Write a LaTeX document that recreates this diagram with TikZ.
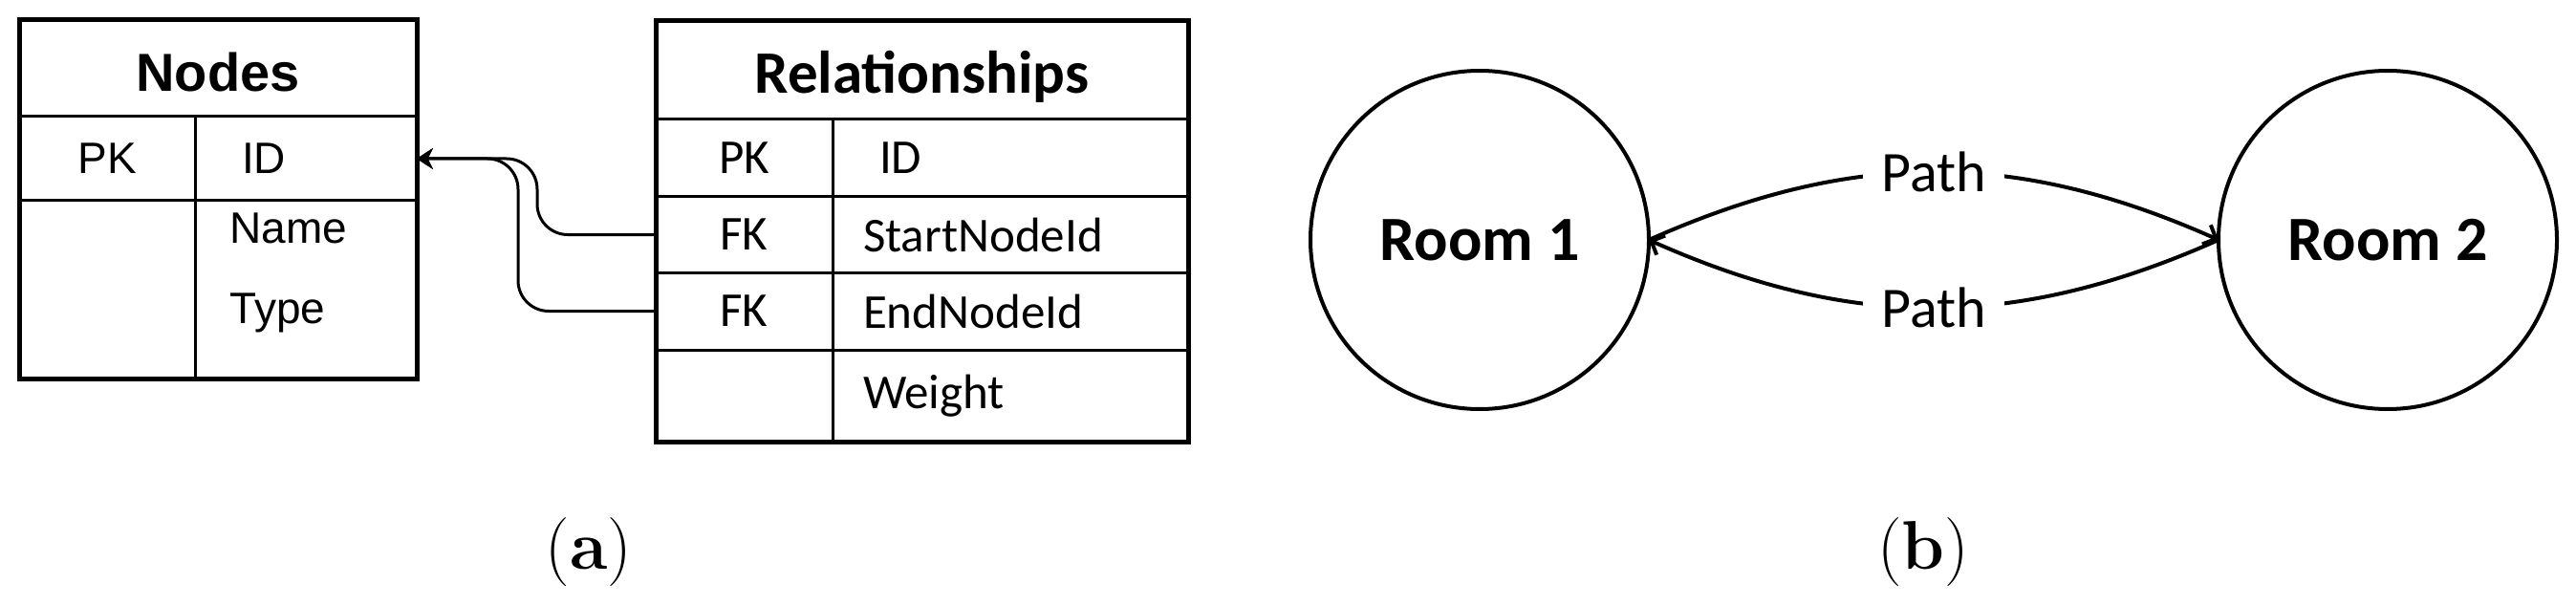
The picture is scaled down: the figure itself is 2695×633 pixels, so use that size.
\documentclass[tikz,border=0pt]{standalone}
\usepackage{fontspec}
\usepackage{tikz}
\usetikzlibrary{arrows.meta,positioning}
\newfontfamily\tablefont{Liberation Sans}
\newfontfamily\canvafont{Carlito}

\begin{document}
\begin{tikzpicture}[x=1pt,y=1pt,
  cell/.style={draw, line width=3pt, outer sep=0pt, inner sep=0pt, anchor=north west},
  ntext/.style={font=\tablefont\fontsize{46}{50}\selectfont},
  rtext/.style={font=\canvafont\fontsize{51}{55}\selectfont},
  head/.style={text height=49pt, text depth=0pt},
  outer/.style={line width=5pt},
  fk/.style={line width=3pt, rounded corners=32pt, -{Stealth[length=17pt,width=22pt]}},
  room/.style={circle, draw, line width=4pt, minimum size=354pt, outer sep=0pt,
    font=\canvafont\bfseries\fontsize{66}{70}\selectfont},
  way/.style={line width=4pt, -{Straight Barb[length=11pt,width=22pt]}},
  lbl/.style={fill=white, inner xsep=19pt, inner ysep=4pt, font=\canvafont\fontsize{60}{64}\selectfont},
  subcap/.style={anchor=base, font=\fontsize{72}{80}\selectfont}]
  \useasboundingbox (0,0) rectangle (2695,633);

  % (a) nodes table
  \node[cell, head, minimum width=416pt, minimum height=101pt,
    font=\tablefont\bfseries\fontsize{56}{60}\selectfont] (nHead) at (20,612) {Nodes};
  \node[cell, ntext, minimum width=184pt, minimum height=88pt] (nPK) at (20,511) {PK};
  \node[cell, ntext, minimum height=88pt, inner xsep=49pt, text width=134pt, align=left] (nID) at (204,511) {ID};
  \node[cell, minimum width=184pt, minimum height=186pt] (nKeys) at (20,423) {};
  \node[cell, minimum width=232pt, minimum height=186pt] (nAttr) at (204,423) {};
  \node[ntext, anchor=base west] (nName) at ([shift={(33,-45)}]nAttr.north west) {Name};
  \node[ntext, anchor=base west] (nType) at ([shift={(33,-128)}]nAttr.north west) {Type};
  \draw[outer] (nHead.north west) rectangle (nAttr.south east);

  % (a) relationships table
  \node[cell, head, minimum width=557pt, minimum height=103pt,
    font=\canvafont\bfseries\fontsize{63}{67}\selectfont] (rHead) at (686,611) {Relationships};
  \node[cell, rtext, minimum width=185pt, minimum height=81pt] (rPK) at (686,508) {PK};
  \node[cell, rtext, minimum height=81pt, inner xsep=49pt, text width=274pt, align=left] (rID) at (871,508) {ID};
  \node[cell, rtext, minimum width=185pt, minimum height=79pt] (rFK1) at (686,427) {FK};
  \node[cell, rtext, minimum height=79pt, inner xsep=32pt, text width=308pt, align=left] (rStart) at (871,427) {StartNodeId};
  \node[cell, rtext, minimum width=185pt, minimum height=81pt] (rFK2) at (686,348) {FK};
  \node[cell, rtext, minimum height=81pt, inner xsep=32pt, text width=308pt, align=left] (rEnd) at (871,348) {EndNodeId};
  \node[cell, minimum width=185pt, minimum height=96pt] (rNone) at (686,267) {};
  \node[cell, rtext, minimum height=96pt, inner xsep=32pt, text width=308pt, align=left] (rWeight) at (871,267) {Weight};
  \draw[outer] (rHead.north west) rectangle (rWeight.south east);

  \draw[fk] (rFK1.west) -| ([xshift=126pt]nID.east) -- (nID.east);
  \draw[fk] (rFK2.west) -| ([xshift=106pt]nID.east) -- (nID.east);

  % (b) rooms
  \node[room] (r1) at (1548,382) {Room 1};
  \node[room] (r2) at (2498,382) {Room 2};
  \draw[way] (r1.east) to[bend left=24] node[lbl] (p1) {Path} (r2.west);
  \draw[way] (r2.west) to[bend left=24] node[lbl] (p2) {Path} (r1.east);

  \node[subcap] (capA) at (616,38) {(\textbf{a})};
  \node[subcap] (capB) at (2012,38) {(\textbf{b})};
\end{tikzpicture}
\end{document}
